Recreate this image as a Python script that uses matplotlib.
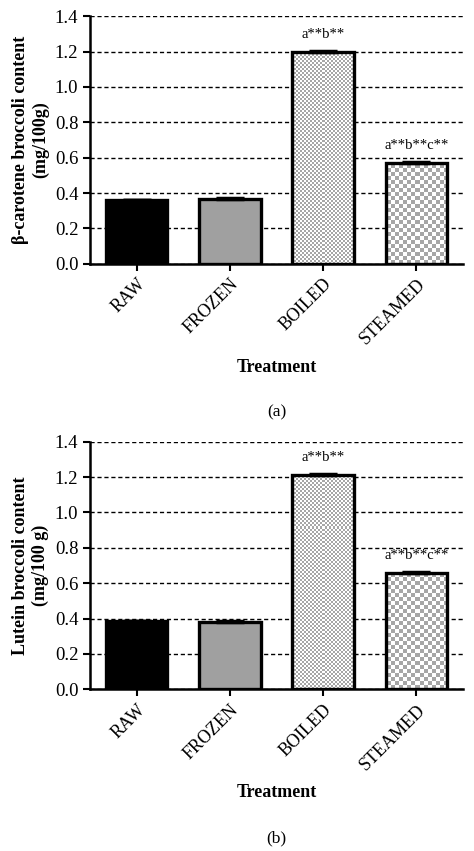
import matplotlib
matplotlib.use("Agg")
import matplotlib.pyplot as plt
from matplotlib.colors import ListedColormap
import numpy as np

plt.rcParams["font.family"] = ["Liberation Serif", "DejaVu Serif"]

treatments = ["RAW", "FROZEN", "BOILED", "STEAMED"]
beta_carotene = [0.36, 0.365, 1.195, 0.568]
beta_err = [0.003, 0.006, 0.006, 0.008]
lutein = [0.385, 0.382, 1.21, 0.655]
lutein_err = [0.004, 0.007, 0.008, 0.007]
labels = ["", "", "a**b**", "a**b**c**"]
ylabels = ["β-carotene broccoli content\n(mg/100g)", "Lutein broccoli content\n(mg/100 g)"]
panels = ["(a)", "(b)"]

fig = plt.figure(figsize=(4.74, 8.51), dpi=100)
check_cmap = ListedColormap(["#a6a6a6", "white"])


def checker(ax, bar, cells):
    # checkerboard fill clipped to the bar shape
    ny, nx = cells
    yy, xx = np.mgrid[0:ny, 0:nx]
    board = (xx + yy) % 2
    x0, x1 = ax.get_xlim()
    y0, y1 = ax.get_ylim()
    im = ax.imshow(board, cmap=check_cmap, extent=(x0, x1, y0, y1),
                   interpolation="nearest", aspect="auto", zorder=2)
    im.set_clip_path(bar)


def draw(ax, vals, errs, ylabel, panel):
    ax.set_xlim(-0.5, 3.5)
    ax.set_ylim(0, 1.4)
    ax.set_yticks(np.arange(0, 1.41, 0.2))
    ax.yaxis.grid(True, linestyle=(0, (3, 2)), color="black", linewidth=1.0)
    ax.set_axisbelow(True)
    x = np.arange(len(treatments))
    bars = ax.bar(x, vals, width=0.66, color=["black", "#a0a0a0", "none", "none"],
                  edgecolor="black", linewidth=2.4, zorder=3)
    checker(ax, bars[2], (124, 186))
    checker(ax, bars[3], (62, 93))
    ax.errorbar(x, vals, yerr=[[0] * 4, errs], fmt="none", ecolor="black",
                elinewidth=2, capsize=10, capthick=2.5, zorder=4)
    for xi, v, lab in zip(x, vals, labels):
        if lab:
            ax.annotate(lab, (xi, v), xytext=(0, 13), textcoords="offset points",
                        ha="center", va="center", fontsize=10.5)
    ax.set_xticks(x)
    ax.set_xticklabels(treatments, rotation=45, ha="right", rotation_mode="anchor",
                       fontsize=13)
    ax.tick_params(axis="y", labelsize=13.5, width=1.5, length=5, direction="out")
    ax.tick_params(axis="x", width=1.5, length=5, direction="out")
    ax.set_yticklabels([f"{t:.1f}" for t in np.arange(0, 1.41, 0.2)])
    for s in ["top", "right"]:
        ax.spines[s].set_visible(False)
    for s in ["left", "bottom"]:
        ax.spines[s].set_linewidth(1.8)
    ax.set_ylabel(ylabel, fontsize=13, fontweight="bold", labelpad=4)
    ax.set_xlabel("Treatment", fontsize=13, fontweight="bold", labelpad=8)
    ax.text(0.5, -0.6, panel, transform=ax.transAxes, ha="center", va="center",
            fontsize=12.5)


ax1 = fig.add_axes([0.19, 0.690, 0.787, 0.291])
draw(ax1, beta_carotene, beta_err, ylabels[0], panels[0])
ax2 = fig.add_axes([0.19, 0.190, 0.787, 0.291])
draw(ax2, lutein, lutein_err, ylabels[1], panels[1])

fig.savefig("out.png", dpi=100)
